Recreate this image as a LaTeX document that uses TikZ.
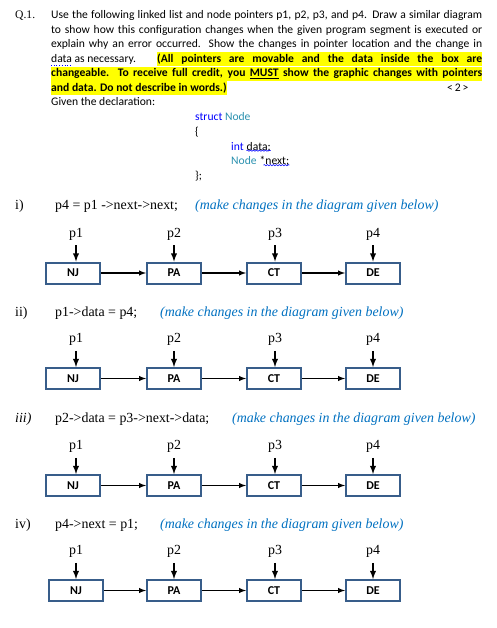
\documentclass[tikz,border=0pt]{standalone}
\usepackage{fontspec}
\setmainfont{Liberation Serif}
\newfontfamily\carlito{Carlito}
\usetikzlibrary{positioning,decorations.pathmorphing}
\definecolor{boxblue}{RGB}{56,93,138}
\definecolor{mkblue}{RGB}{0,112,192}
\definecolor{kwblue}{RGB}{0,0,255}
\definecolor{typeteal}{RGB}{43,145,175}
\definecolor{hilite}{RGB}{255,255,0}

\begin{document}
\begin{tikzpicture}[x=1pt,y=-1pt]
	\useasboundingbox (0,0) rectangle (496,628);
	\def\tw{431pt}
	\tikzset{
		txt/.style = {anchor=base west, inner sep=0pt, font=\carlito\fontsize{11.6}{14}\selectfont},
		hl/.style = {txt, fill=hilite, inner ysep=1.5pt, font=\carlito\bfseries\fontsize{11.6}{14}\selectfont},
		code/.style = {txt},
		tms/.style = {anchor=base west, inner sep=0pt, font=\fontsize{13.9}{16}\selectfont},
		mk/.style = {tms, text=mkblue, font=\itshape\fontsize{13.9}{16}\selectfont},
		datbox/.style = {draw=boxblue, line width=2pt, minimum width=54pt, minimum height=21pt, inner sep=0pt, font=\carlito\bfseries\fontsize{12}{14}\selectfont},
		ptrname/.style = {inner sep=0pt, font=\fontsize{13.9}{16}\selectfont},
		ptr/.style = {line width=1.8pt, -latex, shorten <=5pt},
		link/.style = {line width=1.4pt, -latex},
		squig/.style = {kwblue, line width=0.6pt, decorate, decoration={snake, amplitude=0.6pt, segment length=3pt}}
	}
	
	%Aufgabe
	\node[anchor=base west, inner sep=0pt, font=\fontsize{11.6}{14}\selectfont] (q) at (15,19) {Q.1.};
	\node[txt] (l1) at (51,19) {\makebox[\tw][s]{Use the following linked list and node pointers p1, p2, p3, and p4. Draw a similar diagram}};
	\node[txt] (l2) at (51,33.5) {\makebox[\tw][s]{to show how this configuration changes when the given program segment is executed or}};
	\node[txt] (l3) at (51,48) {\makebox[\tw][s]{explain why an error occurred. Show the changes in pointer location and the change in}};
	\node[txt] (l4) at (51,62.5) {data as necessary.};
	\draw[kwblue, dotted, line width=0.7pt] (l4.base west) ++(0,2.5) -- ++(21,0);
	\node[hl] (l4b) at (157,62.5) {\makebox[325pt][s]{(All pointers are movable and the data inside the box are}};
	\node[hl] (l5) at (51,77) {\makebox[\tw][s]{changeable. To receive full credit, you \underline{MUST} show the graphic changes with pointers}};
	\node[hl] (l6) at (51,91.5) {and data. Do not describe in words.)};
	\node[txt] (pts) at (447,91.5) {<\,2\,>};
	\node[txt] (l7) at (51,106) {Given the declaration:};
	
	%struct
	\node[code] (cs) at (195,120.5) {{\color{kwblue}struct} {\color{typeteal}Node}};
	\node[code] (cb) at (195,135.5) {\{};
	\node[code] (kint) at (231,150.5) {\color{kwblue}int};
	\node[code, right=2.6pt of kint.base east, anchor=base west] (kdata) {data;};
	\node[code] (knode) at (231,165) {\color{typeteal}Node};
	\node[code, right=2.6pt of knode.base east, anchor=base west] (knext) {*next;};
	\node[code] (ce) at (195,180) {\};};
	\draw[squig] ([yshift=1.5pt]kdata.south west) -- ([yshift=1.5pt]kdata.south east);
	\draw[squig] ([xshift=4pt,yshift=1.5pt]knext.south west) -- ([yshift=1.5pt]knext.south east);
	
	%Liste: #1 Praefix, #2 y Mitte, #3 x von NJ
	\newcommand{\liste}[3]
	{
		\node[datbox] (#1nj) at (#3,#2) {NJ};
		\node[datbox] (#1pa) at (174,#2) {PA};
		\node[datbox] (#1ct) at (274,#2) {CT};
		\node[datbox] (#1de) at (373,#2) {DE};
		\node[ptrname] (#1p1) at (76,#2-39) {p1};
		\node[ptrname] (#1p2) at (174,#2-39) {p2};
		\node[ptrname] (#1p3) at (275,#2-39) {p3};
		\node[ptrname] (#1p4) at (373,#2-39) {p4};
		\draw[link] (#1nj) -- (#1pa);
		\draw[link] (#1pa) -- (#1ct);
		\draw[link] (#1ct) -- (#1de);
		\draw[ptr] (#1p1.south) -- (#1p1.south |- #1nj.north);
		\draw[ptr] (#1p2.south) -- (#1p2.south |- #1pa.north);
		\draw[ptr] (#1p3.south) -- (#1p3.south |- #1ct.north);
		\draw[ptr] (#1p4.south) -- (#1p4.south |- #1de.north);
	}
	
	%i)
	\node[tms] (ai) at (15,210) {i)};
	\node[tms] (ac) at (55,210) {p4 = p1 ->next->next;};
	\node[mk] (am) at (195,210) {(make changes in the diagram given below)};
	\liste{a}{273}{73}
	
	%ii)
	\node[tms] (bi) at (15,316) {ii)};
	\node[tms] (bc) at (55,316) {p1->data = p4;};
	\node[mk] (bm) at (160,316) {(make changes in the diagram given below)};
	\liste{b}{378.5}{73}
	
	%iii)
	\node[tms, font=\itshape\fontsize{13.9}{16}\selectfont] (ci) at (15,422.5) {iii)};
	\node[tms] (cc) at (55,422.5) {p2->data = p3->next->data;};
	\node[mk] (cm) at (232,422.5) {(make changes in the diagram given below)};
	\liste{c}{485.5}{73}
	
	%iv)
	\node[tms] (di) at (15,528.5) {iv)};
	\node[tms] (dc) at (55,528.5) {p4->next = p1;};
	\node[mk] (dm) at (160,528.5) {(make changes in the diagram given below)};
	\liste{d}{590.5}{76}
\end{tikzpicture}
\end{document}
